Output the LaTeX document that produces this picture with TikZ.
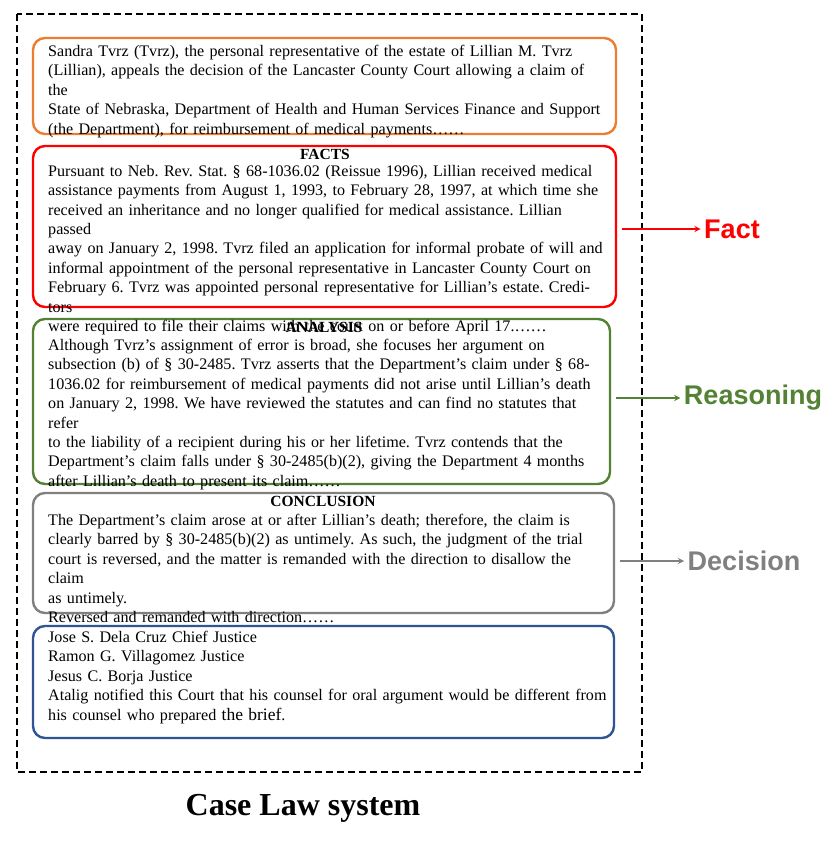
\documentclass[tikz,border=0pt]{standalone}
\usepackage{fontspec}
\setmainfont{Liberation Serif}
\newfontfamily\lblfont{Liberation Sans}
\definecolor{cor}{RGB}{237,125,49}
\definecolor{cgr}{RGB}{84,130,53}
\definecolor{cgy}{RGB}{128,128,128}
\definecolor{cbl}{RGB}{47,85,151}
\frenchspacing
\begin{document}
\begin{tikzpicture}[x=1pt,y=-1pt,
  card/.style={draw,line width=2.4pt,rounded corners=12pt},
  body/.style={anchor=north west,align=left,text width=560pt,inner sep=0pt,font=\fontsize{16.1}{19.4}\selectfont},
  head/.style={anchor=north,inner sep=0pt,font=\fontsize{15.5}{17}\selectfont\bfseries},
  lbl/.style={font=\lblfont\fontsize{27}{30}\selectfont\bfseries},
  arr/.style={-stealth,line width=1.8pt}]
\useasboundingbox (0,0) rectangle (830,841);
\draw[dash pattern=on 7pt off 4pt,line width=2pt] (17,14) rectangle (642,772);
\draw[card,cor] (33,38) rectangle (616,134);
\draw[card,red] (33,146) rectangle (616,307);
\draw[card,cgr] (33,319) rectangle (610,484);
\draw[card,cgy] (33,493) rectangle (614,613);
\draw[card,cbl] (33,626) rectangle (614,738);
\node[body] (t1) at (48,45) {Sandra Tvrz (Tvrz), the personal representative of the estate of Lillian M. Tvrz\\(Lillian), appeals the decision of the Lancaster County Court allowing a claim of the\\State of Nebraska, Department of Health and Human Services Finance and Support\\(the Department), for reimbursement of medical payments……};
\node[head] (h2) at (325,149) {FACTS};
\node[body] (t2) at (48,165) {Pursuant to Neb. Rev. Stat. \S\ 68-1036.02 (Reissue 1996), Lillian received medical\\assistance payments from August 1, 1993, to February 28, 1997, at which time she\\received an inheritance and no longer qualified for medical assistance. Lillian passed\\away on January 2, 1998. Tvrz filed an application for informal probate of will and\\informal appointment of the personal representative in Lancaster County Court on\\February 6. Tvrz was appointed personal representative for Lillian’s estate. Creditors\\were required to file their claims with the court on or before April 17.……};
\node[head] (h3) at (324,322) {ANALYSIS};
\node[body] (t3) at (48,339) {Although Tvrz’s assignment of error is broad, she focuses her argument on\\subsection (b) of \S\ 30-2485. Tvrz asserts that the Department’s claim under \S\ 68-\\1036.02 for reimbursement of medical payments did not arise until Lillian’s death\\on January 2, 1998. We have reviewed the statutes and can find no statutes that refer\\to the liability of a recipient during his or her lifetime. Tvrz contends that the\\Department’s claim falls under \S\ 30-2485(b)(2), giving the Department 4 months\\after Lillian’s death to present its claim……};
\node[head] (h4) at (323,496) {CONCLUSION};
\node[body] (t4) at (48,514) {The Department’s claim arose at or after Lillian’s death; therefore, the claim is\\clearly barred by \S\ 30-2485(b)(2) as untimely. As such, the judgment of the trial\\court is reversed, and the matter is remanded with the direction to disallow the claim\\as untimely.\\Reversed and remanded with direction……};
\node[body] (t5) at (48,631) {Jose S. Dela Cruz Chief Justice\\Ramon G. Villagomez Justice\\Jesus C. Borja Justice\\Atalig notified this Court that his counsel for oral argument would be different from\\his counsel who prepared {\fontsize{17.5}{19.4}\selectfont the brief}.};
\node[lbl,red] (f) at (732,229) {Fact};
\node[lbl,cgr] (r) at (753,398) {Reasoning};
\node[lbl,cgy] (d) at (744,561) {Decision};
\coordinate (a1) at (622,229); \coordinate (a2) at (616,398); \coordinate (a3) at (620,561);
\draw[arr,red] (a1) -- (f.west);
\draw[arr,cgr] (a2) -- (r.west);
\draw[arr,cgy] (a3) -- (d.west);
\node[font=\fontsize{32}{34}\selectfont\bfseries] (title) at (303,808) {Case Law system};
\end{tikzpicture}
\end{document}
